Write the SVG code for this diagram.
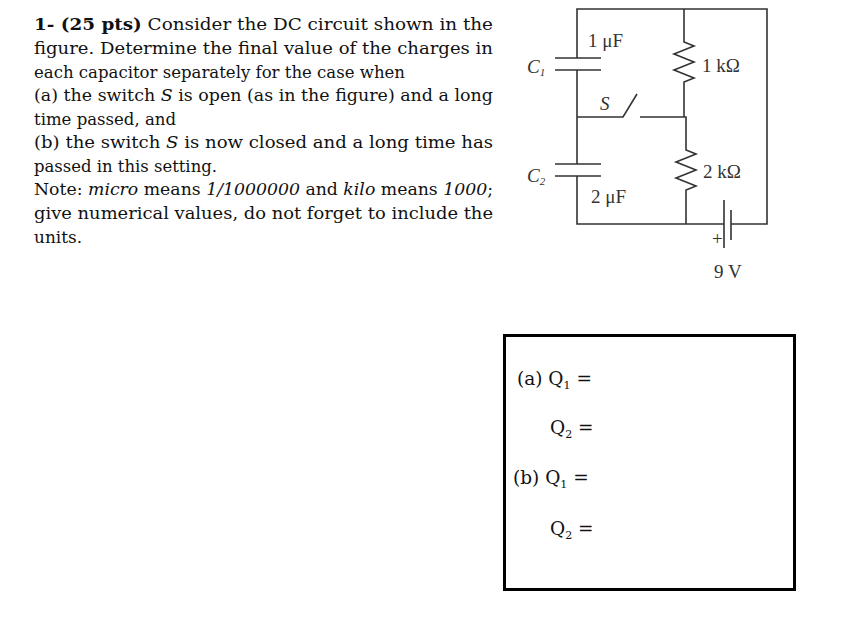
<svg xmlns="http://www.w3.org/2000/svg" width="865" height="643" viewBox="0 0 865 643">
<style>
.t{font-family:"DejaVu Serif",serif;font-size:16.5px;fill:#111}
.w{stroke:#333;stroke-width:1.6;fill:none}
.c{font-family:"Liberation Serif",serif;font-size:19px;fill:#333}
.a{font-family:"DejaVu Serif",serif;font-size:18.5px;fill:#111}
.s{font-size:11px}
</style>
<rect width="865" height="643" fill="#fff"/>
<g id="problem">
<text class="t" x="34" y="30" textLength="459" lengthAdjust="spacingAndGlyphs"><tspan font-weight="bold">1- (25 pts)</tspan> Consider the DC circuit shown in the</text>
<text class="t" x="34" y="54" textLength="459" lengthAdjust="spacingAndGlyphs">figure. Determine the final value of the charges in</text>
<text class="t" x="34" y="78" textLength="371" lengthAdjust="spacingAndGlyphs">each capacitor separately for the case when</text>
<text class="t" x="34" y="101" textLength="459" lengthAdjust="spacingAndGlyphs">(a) the switch <tspan font-style="italic">S</tspan> is open (as in the figure) and a long</text>
<text class="t" x="34" y="125" textLength="142" lengthAdjust="spacingAndGlyphs">time passed, and</text>
<text class="t" x="34" y="148" textLength="459" lengthAdjust="spacingAndGlyphs">(b) the switch <tspan font-style="italic">S</tspan> is now closed and a long time has</text>
<text class="t" x="34" y="172" textLength="183" lengthAdjust="spacingAndGlyphs">passed in this setting.</text>
<text class="t" x="34" y="195" textLength="459" lengthAdjust="spacingAndGlyphs">Note: <tspan font-style="italic">micro</tspan> means <tspan font-style="italic">1/1000000</tspan> and <tspan font-style="italic">kilo</tspan> means <tspan font-style="italic">1000</tspan>;</text>
<text class="t" x="34" y="219" textLength="459" lengthAdjust="spacingAndGlyphs">give numerical values, do not forget to include the</text>
<text class="t" x="34" y="243" textLength="48" lengthAdjust="spacingAndGlyphs">units.</text>
</g>
<g id="connectors">
<path class="w" d="M577,58 V9 H767 V224 H731 M724,224 H577 V176 M577,164 V70"/>
<path class="w" d="M684,9 V42 l10,4 l-20,8 l20,8 l-20,8 l20,8 l-10,4 V117 M577,117 H623 L637,94 M640,117 H686 V150 l10,4 l-20,8 l20,8 l-20,8 l20,8 l-10,4 V224"/>
</g>
<g id="C1"><path class="w" d="M555,58 H601 M555,70 H601"/>
<text class="c" x="527" y="73" font-style="italic">C<tspan class="s" dy="3">1</tspan></text>
<text class="c" x="588" y="47">1 μF</text></g>
<g id="C2"><path class="w" d="M555,164 H601 M555,176 H601"/>
<text class="c" x="527" y="182" font-style="italic">C<tspan class="s" dy="3">2</tspan></text>
<text class="c" x="591" y="203">2 μF</text></g>
<g id="R1"><text class="c" x="702" y="72">1 kΩ</text></g>
<g id="R2"><text class="c" x="703" y="178">2 kΩ</text></g>
<g id="S"><text class="c" x="600" y="110" font-style="italic">S</text></g>
<g id="battery"><path class="w" d="M724,200 V248 M731,210 V240"/>
<text class="c" x="712" y="245" font-size="15">+</text>
<text class="c" x="714" y="278">9 V</text></g>
<g id="answers">
<rect x="504.5" y="335.5" width="290" height="254" fill="none" stroke="#000" stroke-width="3"/>
<text class="a" x="517" y="385">(a)  Q<tspan class="s" dy="4">1</tspan><tspan dy="-4"> =</tspan></text>
<text class="a" x="550" y="434">Q<tspan class="s" dy="4">2</tspan><tspan dy="-4"> =</tspan></text>
<text class="a" x="513" y="484">(b)  Q<tspan class="s" dy="4">1</tspan><tspan dy="-4"> =</tspan></text>
<text class="a" x="550" y="535">Q<tspan class="s" dy="4">2</tspan><tspan dy="-4"> =</tspan></text>
</g>
</svg>
